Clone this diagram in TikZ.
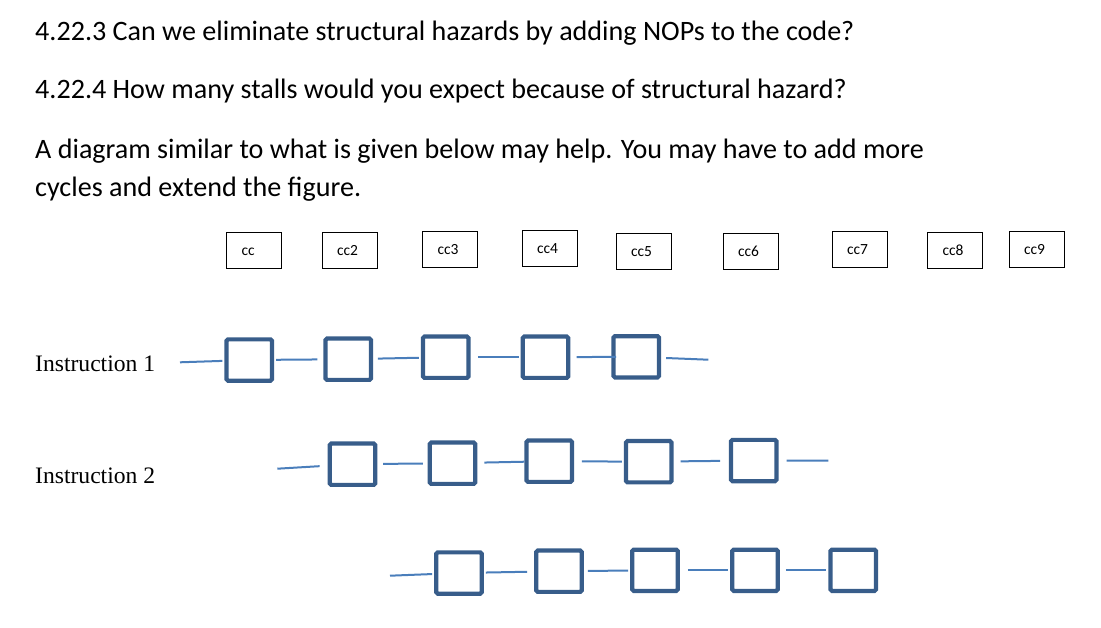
\documentclass[tikz,border=0pt]{standalone}
\usepackage{fontspec}
\newfontfamily\calibri{Carlito}
\newfontfamily\timesfont{Liberation Serif}
\usepackage{tikz}
\definecolor{stageblue}{HTML}{385D8A}
\definecolor{linkblue}{HTML}{4A7EBB}
\tikzset{
  question/.style={anchor=base west, inner sep=0pt,
                   font=\calibri\fontsize{28.1}{33}\selectfont},
  instr/.style={anchor=base west, inner sep=0pt,
                font=\timesfont\fontsize{23.6}{28}\selectfont},
  ccbox/.style={rectangle, draw=black, line width=0.9pt,
                text width=25pt, align=left, inner xsep=15pt,
                inner ysep=0pt, minimum height=36pt,
                text height=10pt, text depth=0pt,
                font=\calibri\fontsize{15.5}{18}\selectfont},
  stage/.style={rectangle, draw=stageblue, line width=4.2pt,
                rounded corners=1.5pt, minimum width=45.5pt,
                minimum height=41.3pt, inner sep=0pt},
  link/.style={draw=linkblue, line width=2pt,
               shorten <=2pt, shorten >=2pt},
}
\begin{document}
\begin{tikzpicture}[x=1pt, y=-1pt]
  \useasboundingbox (0,0) rectangle (1101,627);

  % Questions
  \node[question] (q3) at (35,40.5)
    {4.22.3 Can we eliminate structural hazards by adding NOPs to the code?};
  \node[question] (q4) at (35,98.5)
    {4.22.4 How many stalls would you expect because of structural hazard?};
  \node[question] (hint1) at (35,158)
    {A diagram similar to what is given below may help. You may have to add more};
  \node[question] (hint2) at (35,196.5) {cycles and extend the figure.};

  % Clock cycles
  \node[ccbox] (cc1) at (254,250)     {cc};
  \node[ccbox] (cc2) at (349.5,250)   {cc2};
  \node[ccbox] (cc3) at (450,249)     {cc3};
  \node[ccbox] (cc4) at (549.5,248.5) {cc4};
  \node[ccbox] (cc5) at (643.5,251)   {cc5};
  \node[ccbox] (cc6) at (750.5,251.5) {cc6};
  \node[ccbox] (cc7) at (859.5,249.5) {cc7};
  \node[ccbox] (cc8) at (955,250)     {cc8};
  \node[ccbox] (cc9) at (1036.5,249)  {cc9};

  % Instruction labels
  \node[instr] (ins1) at (35,371.5) {Instruction 1};
  \node[instr] (ins2) at (35,483.5) {Instruction 2};

  % Instruction 1 stages
  \node[stage] (s11) at (249.3,360)   {};
  \node[stage] (s12) at (348.3,359.2) {};
  \node[stage] (s13) at (445.7,357.2) {};
  \node[stage] (s14) at (545.5,357.2) {};
  \node[stage] (s15) at (636.3,356.8) {};
  \coordinate (r1in)  at (180,362.3);
  \coordinate (r1out) at (708.3,359.7);

  \draw[link, shorten <=0pt] (r1in) -- (s11);
  \draw[link, shorten >=6pt] (s11) -- (s12);
  \draw[link, shorten <=4.7pt] (s12) -- (s13);
  \draw[link, shorten <=7.3pt] (s13) -- (s14);
  \draw[link, shorten <=6.3pt, shorten >=-4.6pt] (s14) -- (s15);
  \draw[link, shorten <=5pt, shorten >=0pt] (s15) -- (r1out);

  % Instruction 2 stages
  \node[stage] (s21) at (352.5,464.2) {};
  \node[stage] (s22) at (452.5,463.2) {};
  \node[stage] (s23) at (549.3,461.2) {};
  \node[stage] (s24) at (648.7,461.7) {};
  \node[stage] (s25) at (753.7,460.5) {};
  \coordinate (r2in)  at (277.3,468.7);
  \coordinate (r2out) at (828.3,460.7);

  \draw[link, shorten <=0pt, shorten >=8pt] (r2in) -- (s21);
  \draw[link, shorten <=5.7pt, shorten >=4.7pt] (s21) -- (s22);
  \draw[link, shorten <=7pt, shorten >=0pt] (s22) -- (s23);
  \draw[link, shorten <=7.7pt] (s23) -- (s24);
  \draw[link, shorten <=7pt, shorten >=8.7pt] (s24) -- (s25);
  \draw[link, shorten <=8pt, shorten >=0pt] (s25) -- (r2out);

  % Third row stages
  \node[stage] (s31) at (459,573)     {};
  \node[stage] (s32) at (559,571.2)   {};
  \node[stage] (s33) at (655,570.3)   {};
  \node[stage] (s34) at (755,570.3)   {};
  \node[stage] (s35) at (853.3,570.3) {};
  \coordinate (r3in) at (390,575.7);

  \draw[link, shorten <=0pt] (r3in) -- (s31);
  \draw[link, shorten >=7pt] (s31) -- (s32);
  \draw[link, shorten <=4pt] (s32) -- (s33);
  \draw[link, shorten <=8pt] (s33) -- (s34);
  \draw[link, shorten <=6pt] (s34) -- (s35);
\end{tikzpicture}
\end{document}
